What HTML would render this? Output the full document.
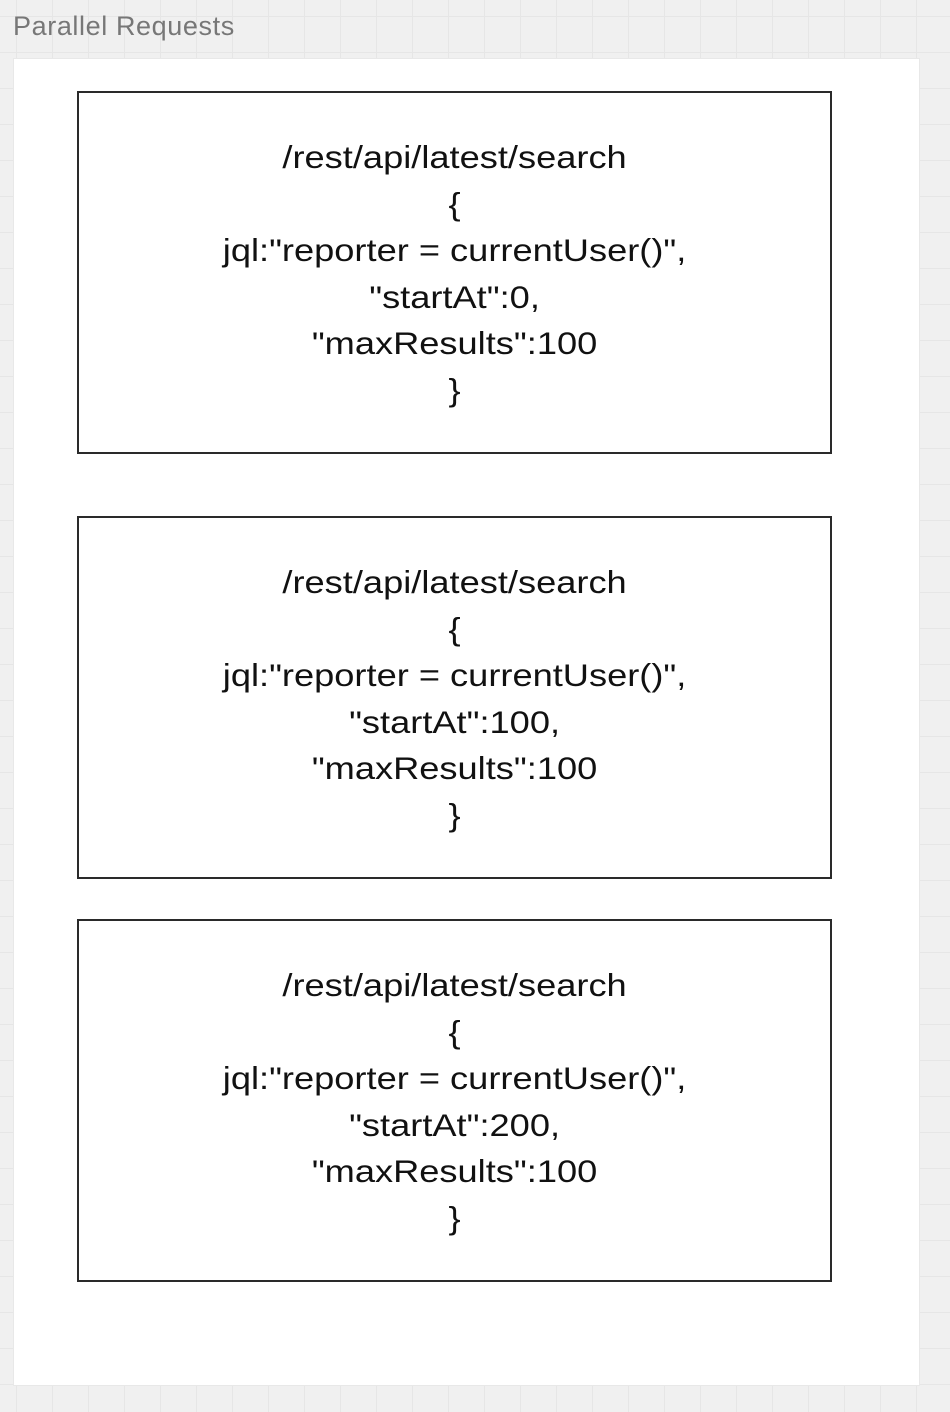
<!DOCTYPE html>
<html><head><style>
html,body{margin:0;padding:0;}
body{width:950px;height:1412px;position:relative;overflow:hidden;background-color:#f0f0f0;
background-image:linear-gradient(#e6e6e6 1px,transparent 1px),linear-gradient(90deg,#e6e6e6 1px,transparent 1px);
background-size:36px 36px;background-position:16px 16px;font-family:"Liberation Sans",sans-serif;}
.title{position:absolute;left:13px;top:11px;font-size:27px;letter-spacing:0.6px;color:#777;}
.panel{position:absolute;left:13px;top:58px;width:907px;height:1328px;background:#fff;border:1px solid #e8e8e8;box-sizing:border-box;}
.box{position:absolute;left:77px;width:755px;height:363px;border:2.5px solid #2a2a2a;box-sizing:border-box;background:#fff;
display:flex;align-items:center;justify-content:center;text-align:center;font-size:31.5px;line-height:46.5px;color:#111;}
.box span{display:block;transform:scaleX(1.15);position:relative;top:1px;}
</style></head><body>
<div class="title">Parallel Requests</div>
<div class="panel"></div>
<div class="box" style="top:91px"><span>/rest/api/latest/search<br>{<br>jql:"reporter = currentUser()",<br>"startAt":0,<br>"maxResults":100<br>}</span></div>
<div class="box" style="top:516px"><span>/rest/api/latest/search<br>{<br>jql:"reporter = currentUser()",<br>"startAt":100,<br>"maxResults":100<br>}</span></div>
<div class="box" style="top:919px"><span>/rest/api/latest/search<br>{<br>jql:"reporter = currentUser()",<br>"startAt":200,<br>"maxResults":100<br>}</span></div>
</body></html>
